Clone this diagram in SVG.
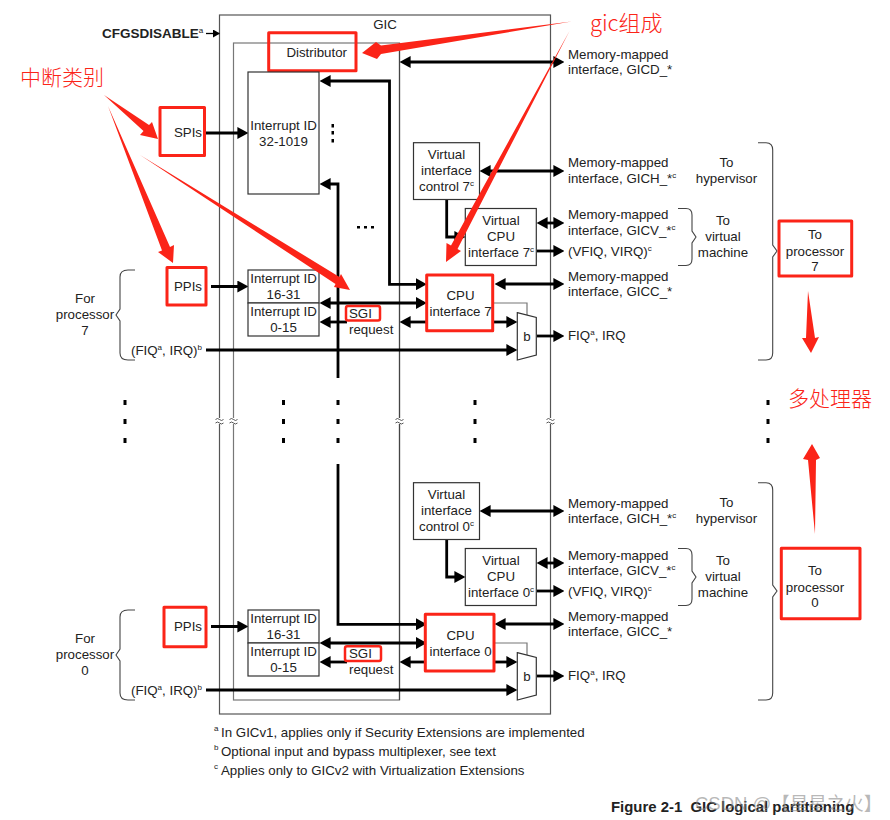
<svg xmlns="http://www.w3.org/2000/svg" width="890" height="820" viewBox="0 0 890 820">
<style>
text{font-family:"Liberation Sans",Arial,"Noto Sans CJK SC",sans-serif;font-size:13.3px;fill:#222}
.c{text-anchor:middle}
.s{font-size:8px}
.b{fill:#fff;stroke:#333;stroke-width:1.2}
.g{fill:none;stroke:#777;stroke-width:1.2}
.k{fill:none;stroke:#444;stroke-width:1.2}
.w{fill:none;stroke:#000;stroke-width:2.8}
.a{marker-end:url(#h)}
.d{marker-start:url(#hs);marker-end:url(#h)}
.r{fill:none;stroke:#fb2418;stroke-width:3;stroke-linejoin:round}
.rf{fill:#fb2418}
.rt{fill:#fb2418;font-family:"Noto Sans CJK SC",sans-serif;font-size:21px;font-weight:300}
.br{fill:none;stroke:#444;stroke-width:1.1}
.dot{fill:#000}
</style>
<defs>
<marker id="h" markerUnits="userSpaceOnUse" markerWidth="11" markerHeight="12" viewBox="0 0 10 11" refX="7" refY="5.5" orient="auto"><polygon points="0,0 10,5.5 0,11" fill="#000"/></marker>
<marker id="hs" markerUnits="userSpaceOnUse" markerWidth="11" markerHeight="12" viewBox="0 0 10 11" refX="7" refY="5.5" orient="auto-start-reverse"><polygon points="0,0 10,5.5 0,11" fill="#000"/></marker>
<marker id="t" markerUnits="userSpaceOnUse" markerWidth="7" markerHeight="8" viewBox="0 0 7 8" refX="6" refY="4" orient="auto"><polygon points="0,0 7,4 0,8" fill="#000"/></marker>
<g id="brk"><rect x="-4" y="-3" width="8" height="6" fill="#fff"/><path d="M-4 -1.500q2 -2 4 0t4 0M-4 2q2 -2 4 0t4 0" fill="none" stroke="#444" stroke-width=".9"/></g>
<g id="dots3"><rect x="-1.500" y="-21" width="3" height="5" class="dot"/><rect x="-1.500" y="-2" width="3" height="5" class="dot"/><rect x="-1.500" y="17" width="3" height="5" class="dot"/></g>
</defs>
<g id="frames">
<rect x="219.500" y="15" width="331" height="699" fill="#fff" stroke="#555" stroke-width="1.2"/>
<rect x="233.500" y="43" width="166" height="657" class="g"/>
<text x="385" y="29" class="c">GIC</text>
<path d="M399.500 43V700" class="k"/>
<use href="#brk" x="219.500" y="421"/><use href="#brk" x="233.500" y="421"/><use href="#brk" x="399.500" y="421"/><use href="#brk" x="550.500" y="421"/>
</g>
<g id="connectors">
<path d="M206 33.500H219" fill="none" stroke="#000" stroke-width="1.300" marker-end="url(#t)"/>
<path d="M403 62H561" class="w d"/>
<path d="M323 81H389.500V284.300H423.500" class="w d"/>
<path d="M338 378V184H323" class="w a"/>
<path d="M205 133H245" class="w a"/>
<path d="M211 286.500H245" class="w a"/>
<path d="M323 303H423.500" class="w d"/>
<path d="M347 322H323" class="w a"/>
<path d="M427 322H403" class="w a"/>
<path d="M206 350H514" class="w a"/>
<path d="M483 171H561" class="w d"/>
<path d="M446.700 199V237H462" class="w a"/>
<path d="M540 223H561" class="w d"/>
<path d="M537 251H561" class="w a"/>
<path d="M498 284H561" class="w d"/>
<path d="M493 322H514" class="w a"/>
<path d="M537 336H561" class="w a"/>
<path d="M493 303H527V316" class="g"/>
<path d="M338 464V624.300H423.500" class="w a"/>
<path d="M211 626.500H245" class="w a"/>
<path d="M323 643H423.500" class="w d"/>
<path d="M347 662H323" class="w a"/>
<path d="M427 662H403" class="w a"/>
<path d="M206 690H514" class="w a"/>
<path d="M483 511H561" class="w d"/>
<path d="M446.700 539V577H462" class="w a"/>
<path d="M540 563H561" class="w d"/>
<path d="M537 591H561" class="w a"/>
<path d="M498 624H561" class="w d"/>
<path d="M493 662H514" class="w a"/>
<path d="M537 676H561" class="w a"/>
<path d="M493 643H527V656" class="g"/>
<use href="#dots3" x="125" y="421"/><use href="#dots3" x="283.500" y="421"/><use href="#dots3" x="338" y="421"/><use href="#dots3" x="475" y="421"/><use href="#dots3" x="768" y="421"/>
<rect x="331.500" y="124" width="2.500" height="3.500" class="dot"/><rect x="331.500" y="131" width="2.500" height="3.500" class="dot"/><rect x="331.500" y="139" width="2.500" height="3.500" class="dot"/>
<rect x="357" y="226" width="3" height="2.500" class="dot"/><rect x="364" y="226" width="3" height="2.500" class="dot"/><rect x="371" y="226" width="3" height="2.500" class="dot"/>
</g>
<g id="cfgsdisable"><text x="102" y="38" style="font-size:13.500px;font-weight:700">CFGSDISABLE<tspan class="s" dy="-5" style="font-weight:400">a</tspan></text></g>
<g id="distributor"><rect x="268.700" y="32.700" width="87.300" height="38" class="r"/><text x="316.700" y="57" class="c">Distributor</text></g>
<g id="id-32-1019"><rect x="248" y="72" width="71" height="122" class="b"/><text x="283.500" y="130" class="c">Interrupt ID</text><text x="283.500" y="146" class="c">32-1019</text></g>
<g id="spis"><rect x="160" y="107.500" width="44.500" height="48" class="r"/><text x="202" y="137" text-anchor="end">SPIs</text></g>
<g id="ppis-7"><rect x="167" y="267.500" width="39" height="37.500" class="r"/><text x="202" y="290.700" text-anchor="end">PPIs</text></g>
<g id="id-16-31-7"><rect x="248" y="270" width="71" height="33" class="b"/><text x="283.500" y="283" class="c">Interrupt ID</text><text x="283.500" y="299" class="c">16-31</text></g>
<g id="id-0-15-7"><rect x="248" y="303" width="71" height="33" class="b"/><text x="283.500" y="316" class="c">Interrupt ID</text><text x="283.500" y="332" class="c">0-15</text></g>
<g id="sgi-7"><rect x="346" y="306" width="34" height="14.500" rx="2" class="r" style="stroke-width:2.500"/><text x="349" y="318">SGI</text><text x="349" y="334">request</text></g>
<g id="for-7"><path d="M135 270H128Q120 270 120 277V309L116 315L120 321V353Q120 360 128 360H135" class="br"/><text x="85" y="303" class="c">For</text><text x="85" y="319" class="c">processor</text><text x="85" y="335" class="c">7</text><text x="131" y="355">(FIQ<tspan class="s" dy="-5">a</tspan><tspan dy="5">, IRQ)</tspan><tspan class="s" dy="-5">b</tspan></text></g>
<g id="vic-7"><rect x="413.500" y="142.700" width="66" height="56.800" class="b"/><text x="446.500" y="158.500" class="c">Virtual</text><text x="446.500" y="174.500" class="c">interface</text><text x="446.500" y="191" class="c">control 7<tspan class="s" dy="-5">c</tspan></text></g>
<g id="vcpu-7"><rect x="465.300" y="208.500" width="71" height="57" class="b"/><text x="501" y="225" class="c">Virtual</text><text x="501" y="241" class="c">CPU</text><text x="501" y="257" class="c">interface 7<tspan class="s" dy="-5">c</tspan></text></g>
<g id="cpu-7"><rect x="426.700" y="275" width="66" height="55.700" class="r" style="fill:#fff"/><text x="460.500" y="299.500" class="c">CPU</text><text x="460.500" y="315.500" class="c">interface 7</text></g>
<g id="mux-7"><polygon points="517.300,312.700 536.300,317.500 536.300,355 517.300,360" class="b"/><text x="527" y="341" class="c">b</text></g>
<g id="labels-7">
<text x="568" y="59">Memory-mapped</text><text x="568" y="74">interface, GICD_*</text>
<text x="568" y="167">Memory-mapped</text><text x="568" y="183">interface, GICH_*<tspan class="s" dy="-5">c</tspan></text>
<text x="568" y="219">Memory-mapped</text><text x="568" y="235">interface, GICV_*<tspan class="s" dy="-5">c</tspan></text>
<text x="568" y="255.500">(VFIQ, VIRQ)<tspan class="s" dy="-5">c</tspan></text>
<text x="568" y="281">Memory-mapped</text><text x="568" y="296">interface, GICC_*</text>
<text x="568" y="340">FIQ<tspan class="s" dy="-5">a</tspan><tspan dy="5">, IRQ</tspan></text>
<text x="726.500" y="167" class="c">To</text><text x="726.500" y="183" class="c">hypervisor</text>
<path d="M678 208.500H686Q692 208.500 692 215V231L696 237L692 243V259Q692 265.500 686 265.500H678" class="br"/>
<text x="723" y="225" class="c">To</text><text x="723" y="241" class="c">virtual</text><text x="723" y="257" class="c">machine</text>
<path d="M758 142.700H766Q772.700 142.700 772.700 150V245L777 251L772.700 257V353Q772.700 360 766 360H758" class="br"/>
</g>
<g id="to-processor-7"><rect x="779" y="221" width="72.700" height="55" class="r"/><text x="815" y="239" class="c">To</text><text x="815" y="255.500" class="c">processor</text><text x="815" y="271" class="c">7</text></g>
<g id="ppis-0"><rect x="164" y="607.300" width="42" height="39.400" class="r"/><text x="202" y="630.700" text-anchor="end">PPIs</text></g>
<g id="id-16-31-0"><rect x="248" y="610" width="71" height="33" class="b"/><text x="283.500" y="623" class="c">Interrupt ID</text><text x="283.500" y="639" class="c">16-31</text></g>
<g id="id-0-15-0"><rect x="248" y="643" width="71" height="33" class="b"/><text x="283.500" y="656" class="c">Interrupt ID</text><text x="283.500" y="672" class="c">0-15</text></g>
<g id="sgi-0"><rect x="345" y="646.300" width="36" height="14.700" rx="2" class="r" style="stroke-width:2.500"/><text x="349" y="658">SGI</text><text x="349" y="674">request</text></g>
<g id="for-0"><path d="M135 610H128Q120 610 120 617V649L116 655L120 661V693Q120 700 128 700H135" class="br"/><text x="85" y="643" class="c">For</text><text x="85" y="659" class="c">processor</text><text x="85" y="675" class="c">0</text><text x="131" y="695">(FIQ<tspan class="s" dy="-5">a</tspan><tspan dy="5">, IRQ)</tspan><tspan class="s" dy="-5">b</tspan></text></g>
<g id="vic-0"><rect x="413.500" y="482.700" width="66" height="56.800" class="b"/><text x="446.500" y="498.500" class="c">Virtual</text><text x="446.500" y="514.500" class="c">interface</text><text x="446.500" y="531" class="c">control 0<tspan class="s" dy="-5">c</tspan></text></g>
<g id="vcpu-0"><rect x="465.300" y="548.500" width="71" height="57" class="b"/><text x="501" y="565" class="c">Virtual</text><text x="501" y="581" class="c">CPU</text><text x="501" y="597" class="c">interface 0<tspan class="s" dy="-5">c</tspan></text></g>
<g id="cpu-0"><rect x="425.300" y="614.300" width="68.700" height="56.700" class="r" style="fill:#fff"/><text x="460.500" y="639.500" class="c">CPU</text><text x="460.500" y="655.500" class="c">interface 0</text></g>
<g id="mux-0"><polygon points="517.300,652.700 536.300,657.500 536.300,695 517.300,700" class="b"/><text x="527" y="681" class="c">b</text></g>
<g id="labels-0">
<text x="568" y="508">Memory-mapped</text><text x="568" y="523">interface, GICH_*<tspan class="s" dy="-5">c</tspan></text>
<text x="568" y="560">Memory-mapped</text><text x="568" y="575">interface, GICV_*<tspan class="s" dy="-5">c</tspan></text>
<text x="568" y="595.500">(VFIQ, VIRQ)<tspan class="s" dy="-5">c</tspan></text>
<text x="568" y="621">Memory-mapped</text><text x="568" y="636">interface, GICC_*</text>
<text x="568" y="680">FIQ<tspan class="s" dy="-5">a</tspan><tspan dy="5">, IRQ</tspan></text>
<text x="726.500" y="507" class="c">To</text><text x="726.500" y="523" class="c">hypervisor</text>
<path d="M678 548.500H686Q692 548.500 692 555V571L696 577L692 583V599Q692 605.500 686 605.500H678" class="br"/>
<text x="723" y="565" class="c">To</text><text x="723" y="581" class="c">virtual</text><text x="723" y="597" class="c">machine</text>
<path d="M758 482.700H766Q772.700 482.700 772.700 490V585L777 591L772.700 597V693Q772.700 700 766 700H758" class="br"/>
</g>
<g id="to-processor-0"><rect x="781.300" y="548.300" width="78.700" height="70.400" class="r"/><text x="815" y="575" class="c">To</text><text x="815" y="591.500" class="c">processor</text><text x="815" y="607" class="c">0</text></g>
<g id="notes">
<text x="214" y="731" class="s">a</text><text x="221" y="737">In GICv1, applies only if Security Extensions are implemented</text>
<text x="214" y="750" class="s">b</text><text x="221" y="756">Optional input and bypass multiplexer, see text</text>
<text x="214" y="769" class="s">c</text><text x="221" y="775">Applies only to GICv2 with Virtualization Extensions</text>
<text x="611" y="812" style="font-size:14.900px;font-weight:700">Figure 2-1&#160;&#160;GIC logical partitioning</text>
</g>
<g id="annotations">
<polygon class="rf" points="571.500,21.500 381,45.500 376,42 362,53 377,59 381,54"/>
<polygon class="rf" points="569.500,31 451,245.500 446.500,243 446,262 461,251 457.500,249"/>
<polygon class="rf" points="104,95 149,125 152,122 158,139 140,135 143.500,131"/>
<polygon class="rf" points="108,106 170,247 174,245 173,263 158,252 162,250.500"/>
<polygon class="rf" points="140,155 339.500,277 341,274 350,290 334,287 335.500,284"/>
<polygon class="rf" points="808,291 815,338 819,337 811,353 802,338 806,338"/>
<polygon class="rf" points="815,534 816,460 820,458 812,444 803,459 808,460"/>
<text x="20" y="85" class="rt">中断类别</text>
<text x="590" y="31" class="rt" style="font-size:22px">gic组成</text>
<text x="788" y="406" class="rt">多处理器</text>
<text x="695" y="810" style="font-size:18.500px;fill:#888;fill-opacity:.6">CSDN @【星星之火】</text>
</g>
</svg>
